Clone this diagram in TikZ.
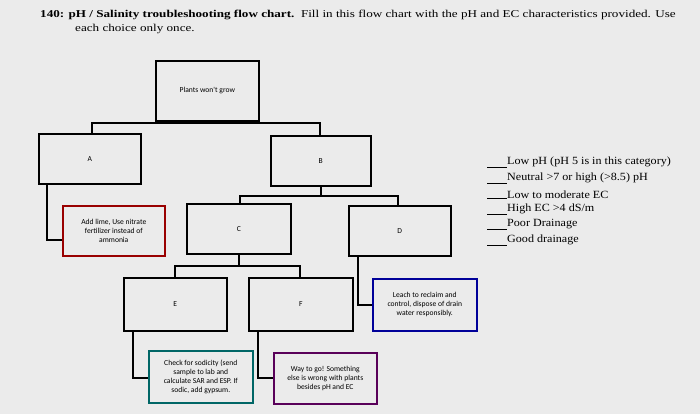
\documentclass[tikz,border=0pt]{standalone}
\usepackage{fontspec}
\setmainfont{Liberation Serif}
\newfontfamily\boxfont{Carlito}
\begin{document}
\begin{tikzpicture}[x=1pt,y=-1pt,
  bx/.style={draw=black,line width=1.6pt,minimum width=#1pt,minimum height=50pt,inner sep=1pt,align=center,font=\boxfont\fontsize{7.6}{9}\selectfont,anchor=north west},
  bx/.default=102,
  ln/.style={line width=1.6pt}]
\fill[black!8] (0,0) rectangle (700,414);
\useasboundingbox (0,0) rectangle (700,414);
\node[anchor=north west,inner sep=0,font=\fontsize{10.5}{12}\selectfont] (title) at (40,10)
 {\scalebox{1.25}[1]{\textbf{140: pH / Salinity troubleshooting flow chart.}\ \ Fill in this flow chart with the pH and EC characteristics provided. Use}};
\node[anchor=north west,inner sep=0,font=\fontsize{10.5}{12}\selectfont] (title2) at (75,24) {\scalebox{1.25}[1]{each choice only once.}};
\node[bx=103,minimum height=60pt] (top) at (155,60) {Plants won't grow};
\node[bx] (A) at (38,133) {A};
\node[bx=100] (B) at (270,135) {B};
\node[bx,draw=red!60!black] (R) at (62,205) {Add lime, Use nitrate\\fertilizer instead of\\ammonia};
\node[bx=104] (C) at (186,203) {C};
\node[bx] (D) at (348,205) {D};
\node[bx=103,minimum height=53pt] (E) at (123,277) {E};
\node[bx=104,minimum height=53pt] (F) at (248,277) {F};
\node[bx=104,minimum height=52pt,draw=blue!60!black] (L) at (372,278) {Leach to reclaim and\\control, dispose of drain\\water responsibly.};
\node[bx=104,minimum height=52pt,draw=teal!80!black] (K) at (148,350) {Check for sodicity (send\\sample to lab and\\calculate SAR and ESP. If\\sodic, add gypsum.};
\node[bx=103,minimum height=51pt,draw=violet!70!black] (W) at (273,352) {Way to go! Something\\else is wrong with plants\\besides pH and EC};
\coordinate (t1) at (top.south |- 0,123);
\draw[ln] (top.south) -- (t1);
\draw[ln] (A.north -| 92,0) -- (92,123) -- (320,123) -- (B.north -| 320,0);
\draw[ln] (B.south) -- (B.south |- 0,196);
\draw[ln] (C.north -| 240,0) -- (240,196) -- (398,196) -- (D.north -| 398,0);
\draw[ln] (C.south) -- (C.south |- 0,266);
\draw[ln] (E.north -| 175,0) -- (175,266) -- (300,266) -- (F.north -| 300,0);
\draw[ln] (A.south -| 47,0) -- (47,240) -- (R.west |- 0,240);
\draw[ln] (D.south -| 358,0) -- (358,305) -- (L.west |- 0,305);
\draw[ln] (E.south -| 133,0) -- (133,378) -- (K.west |- 0,378);
\draw[ln] (F.south -| 258,0) -- (258,378) -- (W.west |- 0,378);
\foreach \t [count=\i] in {Low pH (pH 5 is in this category),Neutral >7 or high (>8.5) pH,Low to moderate EC,High EC >4 dS/m,Poor Drainage,Good drainage}{
  \node[anchor=south west,inner sep=0,font=\fontsize{11}{12}\selectfont] (c\i) at (507,{152+\i*15.5}) {\scalebox{1.1}[1]{\t}};
  \draw[line width=0.5pt] (487,{152+\i*15.5}) -- (c\i.south west);
}
\end{tikzpicture}
\end{document}
